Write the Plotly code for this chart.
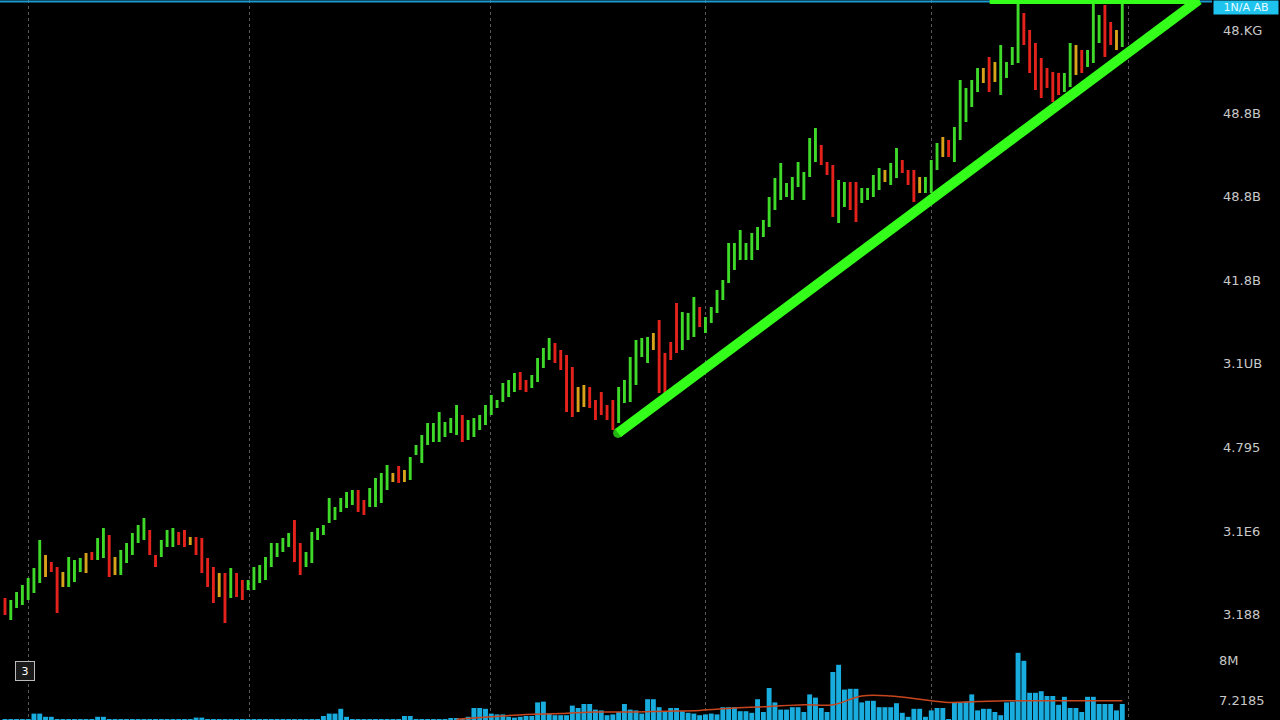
import plotly.graph_objects as go

# ---------------- data ----------------
opens = [12.2, 10.0, 11.2, 11.5, 12.0, 12.7, 13.7, 14.3, 15.8, 15.3,
         13.3, 13.3, 13.8, 14.8, 14.7, 16.8, 16.0, 16.2, 18.5, 14.5,
         14.5, 15.7, 16.5, 17.7, 18.0, 19.0, 16.5, 16.3, 17.3, 17.3,
         18.8, 19.0, 17.5, 18.3, 18.2, 16.2, 15.3, 12.3, 14.7, 12.2,
         14.7, 14.0, 13.0, 13.0, 13.7, 14.0, 15.3, 16.3, 16.8, 17.3,
         20.0, 17.7, 15.3, 15.7, 18.0, 18.5, 19.7, 20.0, 20.8, 21.2,
         21.5, 23.0, 22.0, 21.3, 21.3, 21.7, 23.0, 23.8, 25.4, 23.8,
         24.0, 26.5, 25.7, 27.5, 27.8, 27.8, 28.3, 28.7, 28.5, 30.5,
         28.0, 28.3, 29.0, 29.5, 30.5, 31.2, 31.8, 32.3, 32.8, 34.8,
         34.0, 33.2, 33.8, 35.2, 36.0, 37.7, 37.0, 36.5, 35.3, 30.8,
         31.3, 33.3, 32.0, 32.8, 31.5, 32.0, 29.7, 31.7, 31.8, 33.5,
         36.3, 35.7, 37.0, 40.0, 36.7, 37.8, 41.7, 37.0, 38.0, 38.3,
         41.3, 38.7, 39.7, 40.7, 42.0, 43.7, 45.0, 46.0, 46.0, 46.0,
         47.0, 48.3, 49.3, 51.0, 52.0, 52.3, 52.0, 53.3, 52.0, 54.3,
         55.8, 57.5, 55.8, 55.5, 49.7, 51.3, 53.8, 53.8, 51.7, 52.0,
         52.3, 53.0, 53.8, 53.5, 54.2, 56.0, 55.0, 55.0, 52.7, 52.7,
         52.7, 55.0, 56.3, 58.0, 55.8, 58.0, 59.8, 61.3, 62.8, 63.7,
         66.3, 63.8, 62.5, 64.2, 65.5, 65.7, 70.7, 69.0, 67.7, 66.2,
         65.2, 64.8, 64.7, 62.8, 63.3, 64.5, 67.0, 65.3, 65.7, 67.7,
         71.5, 69.8, 67.0, 67.3]

closes = [10.5, 12.0, 12.8, 13.5, 14.2, 15.2, 18.0, 16.5, 14.8, 10.7,
          14.8, 16.3, 16.0, 16.2, 16.7, 16.0, 18.2, 19.2, 14.3, 16.3,
          17.0, 17.7, 18.7, 19.5, 20.2, 16.5, 15.3, 18.0, 19.0, 19.2,
          17.5, 17.3, 18.3, 16.5, 14.7, 13.3, 11.7, 14.7, 9.7, 15.2,
          12.3, 12.0, 14.0, 15.3, 15.5, 16.3, 17.7, 17.7, 18.2, 18.7,
          15.8, 14.5, 16.8, 18.8, 19.2, 19.5, 22.2, 21.3, 22.2, 22.8,
          23.0, 20.8, 20.5, 23.2, 24.2, 24.7, 25.5, 24.7, 23.7, 25.0,
          26.3, 27.5, 28.5, 29.7, 29.7, 30.8, 29.8, 30.2, 31.5, 27.8,
          30.0, 30.2, 30.5, 31.5, 32.5, 32.0, 33.7, 34.0, 34.7, 33.0,
          32.8, 34.5, 36.2, 37.2, 38.2, 35.7, 35.0, 30.8, 30.3, 33.3,
          33.5, 31.2, 30.0, 30.5, 30.0, 29.0, 33.3, 34.0, 36.3, 38.0,
          38.2, 38.3, 38.7, 32.7, 32.7, 36.0, 36.7, 40.8, 40.7, 42.3,
          39.3, 40.3, 41.3, 43.0, 44.0, 47.7, 47.7, 49.0, 47.7, 48.7,
          49.3, 50.0, 52.3, 54.2, 55.7, 53.7, 54.3, 55.8, 54.8, 58.2,
          59.2, 55.5, 54.5, 50.3, 54.0, 53.8, 51.0, 49.8, 53.2, 53.2,
          54.5, 55.2, 55.0, 55.7, 57.2, 54.7, 53.5, 51.8, 54.3, 54.3,
          56.0, 57.7, 58.3, 56.3, 59.3, 64.0, 63.2, 64.0, 65.2, 65.2,
          62.8, 65.8, 67.5, 65.8, 67.3, 71.7, 67.5, 64.7, 63.0, 62.2,
          63.2, 61.8, 62.5, 64.7, 67.7, 67.5, 64.7, 67.0, 71.7, 70.5,
          66.3, 67.5, 69.0, 71.7]

volumes = [0.1, 0.1, 0.1, 0.1, 0.1, 0.8, 0.8, 0.4, 0.4, 0.1,
           0.1, 0.1, 0.1, 0.1, 0.1, 0.1, 0.4, 0.4, 0.1, 0.1,
           0.1, 0.1, 0.1, 0.1, 0.1, 0.1, 0.1, 0.1, 0.1, 0.1,
           0.1, 0.1, 0.1, 0.3, 0.3, 0.1, 0.1, 0.1, 0.1, 0.1,
           0.1, 0.1, 0.1, 0.1, 0.1, 0.1, 0.1, 0.1, 0.1, 0.1,
           0.1, 0.1, 0.1, 0.1, 0.1, 0.5, 0.8, 0.8, 1.4, 0.4,
           0.1, 0.1, 0.1, 0.1, 0.1, 0.1, 0.1, 0.1, 0.1, 0.5,
           0.5, 0.1, 0.1, 0.1, 0.1, 0.1, 0.1, 0.15, 0.15, 0.1,
           0.4, 1.5, 1.5, 1.4, 0.8, 0.7, 0.7, 0.4, 0.3, 0.4,
           0.5, 0.5, 2.2, 2.3, 0.8, 0.6, 0.6, 0.6, 1.8, 1.5,
           2.0, 2.0, 1.3, 1.2, 0.6, 0.7, 1.0, 2.0, 1.3, 1.2,
           0.8, 2.6, 2.6, 1.6, 1.0, 1.5, 1.5, 1.1, 0.9, 0.8,
           0.6, 0.7, 0.8, 0.7, 1.6, 1.6, 1.6, 1.1, 1.1, 0.9,
           2.6, 1.0, 4.0, 2.2, 1.3, 1.3, 1.6, 1.6, 1.0, 3.2,
           2.8, 1.5, 1.0, 6.0, 6.9, 3.8, 3.9, 3.9, 2.2, 2.4,
           2.4, 1.6, 1.6, 1.6, 2.1, 0.9, 0.4, 1.4, 1.4, 0.4,
           1.2, 1.5, 1.5, 0.1, 2.2, 2.2, 2.3, 3.2, 1.2, 1.4,
           1.4, 1.0, 0.6, 2.2, 2.3, 8.4, 7.4, 3.4, 3.4, 3.6,
           3.0, 3.0, 1.9, 2.9, 1.5, 1.5, 1.0, 2.9, 2.9, 2.0,
           2.0, 2.0, 1.2, 2.0]

# candles drawn in the amber "neutral" colour
neutral_idx = [7, 10, 14, 19, 32, 37, 67, 69, 99, 100, 112, 152, 158, 162,
               169, 171, 185, 192]

# volume moving average (sampled)
vol_ma_idx = [78, 84, 90, 96, 102, 108, 114, 120, 126, 132, 138, 143, 148,
              153, 158, 163, 168, 173, 178, 183, 188, 193]
vol_ma = [0.1, 0.4, 0.7, 0.8, 1.0, 1.0, 1.1, 1.2, 1.5, 1.7, 1.9, 1.9, 3.0,
          3.0, 2.6, 2.2, 2.3, 2.4, 2.4, 2.4, 2.4, 2.4]

# vertical date separators (bar index)
grid_idx = [4, 42.3, 83.8, 121, 160, 194]

# drawn trend line and resistance line
trend_x = [105.9, 206.2]
trend_y = [28.7, 72.0]
resist_x = [170.1, 206.4]
resist_level = 71.8

# axis ticks / labels
price_ticks = [69.0, 60.7, 52.4, 44.0, 35.7, 27.3, 18.9, 10.6]
price_labels = ["48.KG", "48.8B", "48.8B", "41.8B", "3.1UB", "4.795", "3.1E6", "3.188"]
vol_ticks = [7.5, 2.5]
vol_labels = ["8M", "7.2185"]
last_label = "1N/A AB"
marker_label = "3"

# ---------------- figure ----------------
N = len(closes)
idx = list(range(N))

GREEN = "#3fd92a"
RED = "#e3221c"
AMBER = "#d9a21b"
colors = []
for i in idx:
    if i in neutral_idx:
        colors.append(AMBER)
    elif closes[i] >= opens[i]:
        colors.append(GREEN)
    else:
        colors.append(RED)

body = [c - o for o, c in zip(opens, closes)]

fig = go.Figure()

# volume
fig.add_trace(go.Bar(x=idx, y=volumes, yaxis="y2", width=0.85,
                     marker=dict(color="#19acdf", line=dict(width=0)),
                     hoverinfo="skip", showlegend=False))
fig.add_trace(go.Scatter(x=vol_ma_idx, y=vol_ma, yaxis="y2", mode="lines",
                         line=dict(color="#c8461e", width=1.5, shape="spline"),
                         hoverinfo="skip", showlegend=False))

# candles (bodies)
fig.add_trace(go.Bar(x=idx, y=body, base=opens, width=0.5,
                     marker=dict(color=colors, line=dict(width=0)),
                     showlegend=False))

# last price line (thin cyan along the top)
fig.add_trace(go.Scatter(x=[-1, N + 20], y=[resist_level + 0.05] * 2, mode="lines",
                         line=dict(color="#1a9ad0", width=2),
                         hoverinfo="skip", showlegend=False))
# resistance
fig.add_trace(go.Scatter(x=resist_x, y=[resist_level] * 2, mode="lines",
                         line=dict(color="#33ff1a", width=4),
                         hoverinfo="skip", showlegend=False))
# trend line
fig.add_trace(go.Scatter(x=trend_x, y=trend_y, mode="lines+markers",
                         line=dict(color="#33ff1a", width=10),
                         marker=dict(color="#33ff1a", size=[10, 0], line=dict(width=0)),
                         hoverinfo="skip", showlegend=False))

fig.update_layout(
    width=1280, height=720,
    template="none",
    paper_bgcolor="#000000", plot_bgcolor="#000000",
    margin=dict(l=0, r=68, t=0, b=0),
    barmode="overlay",
    showlegend=False,
    font=dict(family="DejaVu Sans", color="#c8c8c8", size=13),
    xaxis=dict(range=[-0.864, 208.5], tickvals=grid_idx, showticklabels=False,
               showgrid=True, gridcolor="#5a5a5a", griddash="dot", gridwidth=1,
               zeroline=False, showline=False, ticks="", automargin=False),
    yaxis=dict(range=[0, 72], domain=[0, 1], side="right",
               tickvals=price_ticks, ticktext=price_labels,
               showgrid=False, zeroline=False, showline=False, ticks="",
               ticklabelstandoff=10, automargin=False,
               tickfont=dict(size=13, color="#c8c8c8")),
    yaxis2=dict(range=[0, 9], domain=[0, 0.1], side="right", anchor="x",
                tickvals=vol_ticks, ticktext=vol_labels,
                showgrid=False, zeroline=False, showline=False, ticks="",
                ticklabelstandoff=6, automargin=False,
                tickfont=dict(size=13, color="#c8c8c8")),
    annotations=[
        dict(xref="paper", yref="paper", x=1, y=1, xanchor="left", yanchor="top",
             xshift=1, text=last_label, showarrow=False, bgcolor="#1ec3ee",
             font=dict(color="#e8fbff", size=11), width=64, height=13, borderpad=0),
        dict(xref="paper", yref="paper", x=25 / 1212, y=1 - 671 / 720,
             xanchor="center", yanchor="middle", text=marker_label, showarrow=False,
             bgcolor="#1a1a1a", bordercolor="#bbbbbb", borderwidth=1,
             font=dict(color="#ffffff", size=11), width=16, height=16),
    ],
)

fig.write_html(
    "out.html",
    config={"displayModeBar": False},
    post_script="document.body.style.margin='0';document.body.style.background='#000';",
)
